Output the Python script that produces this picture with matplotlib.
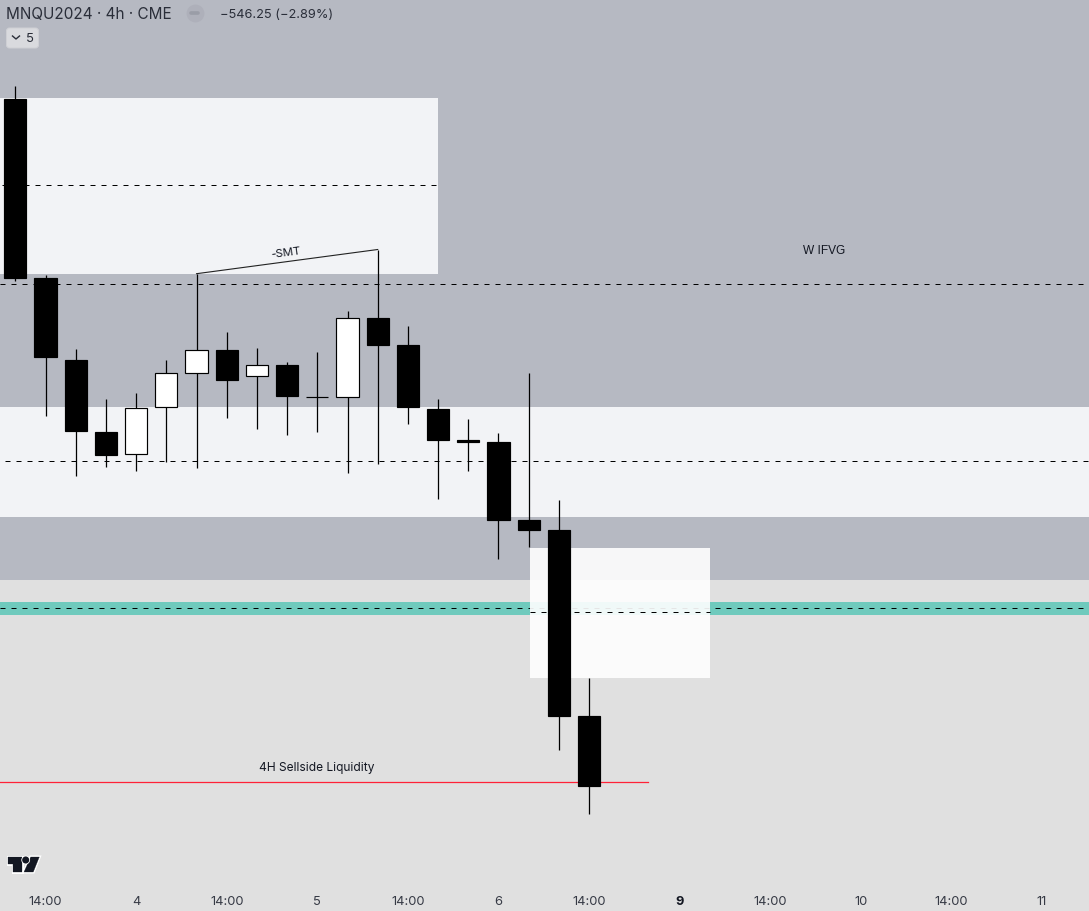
import matplotlib
matplotlib.use("Agg")
import matplotlib.pyplot as plt
import matplotlib.patheffects as pe
from matplotlib.patches import FancyBboxPatch, Polygon

plt.rcParams['font.family'] = ['Inter', 'DejaVu Sans']

# price levels (no price scale is shown, so the
# y axis is just an inverted chart level: smaller = higher price)
opens = [98.5, 277.5, 359.5, 431.5, 454, 407, 373, 349.5, 376, 364.5, 396.5, 396.5,
         317.5, 344.5, 408.5, 439.5, 441.5, 519.5, 529.5, 715.5]
highs = [86, 275, 349, 399, 393, 360, 274, 332, 348, 362, 352, 311,
         250, 326, 399, 419, 433, 373, 500, 678]
lows = [281, 416, 476, 467, 471, 462, 468, 418, 429, 435, 432, 473,
        464, 424, 499, 471, 559, 547, 750, 814]
closes = [277.5, 356.5, 430.5, 454.5, 407.5, 372.5, 349.5, 379.5, 364.5, 395.5, 396.5, 317.5,
          344.5, 406.5, 439.5, 441.5, 519.5, 529.5, 715.5, 785.5]

tick_pos = [1, 4, 7, 10, 13, 16, 19, 22, 25, 28, 31, 34]
tick_labels = ["14:00", "4", "14:00", "5", "14:00", "6", "14:00", "9", "14:00", "10", "14:00", "11"]

gray = "#b6b9c2"
pale = "#f2f3f6"
lower = "#e0e0e0"
teal = "#6fcabd"
ink = "#131722"

x_left, x_right = -0.508, 35.555

fig = plt.figure(figsize=(10.89, 9.11), dpi=100)
ax = fig.add_axes([0, 0, 1, 1])
ax.set_xlim(x_left, x_right)
ax.set_ylim(911, 0)
ax.set_facecolor(gray)
for s in ax.spines.values():
    s.set_visible(False)
ax.yaxis.set_visible(False)

# zones
ax.axhspan(580, 911, color=lower, lw=0, zorder=1)
ax.axhspan(407, 517, color=pale, lw=0, zorder=1)
ax.fill_between([x_left, 14], 98, 274, color=pale, lw=0, zorder=1)
ax.axhspan(602, 615, color=teal, lw=0, zorder=2)

dash = (0, (5, 6))
ax.plot([x_left, x_right], [607.6, 607.6], color="black", lw=0.72, ls=dash, zorder=3)
ax.fill_between([17.05, 23], 548, 678, color="white", alpha=0.9, lw=0, zorder=4)
ax.plot([-0.45, 14], [184.6, 184.6], color="black", lw=0.72, ls=dash, zorder=5)
ax.plot([x_left, x_right], [283.6, 283.6], color="black", lw=0.72, ls=dash, zorder=5)
ax.plot([-0.35, x_right], [460.6, 460.6], color="black", lw=0.72, ls=dash, zorder=5)
ax.plot([17.05, 23], [611.6, 611.6], color="black", lw=0.72, ls=dash, zorder=5)

ax.plot([x_left, 20.95], [781.6, 781.6], color="#ff2238", lw=0.9, zorder=5)
ax.plot([6, 12], [273.7, 249.5], color="#222222", lw=0.8, zorder=5)

# candles
xs = list(range(len(opens)))
ax.vlines(xs, highs, lows, color="black", lw=0.9, zorder=6)
for x, o, c in zip(xs, opens, closes):
    fc = "white" if c < o else "black"
    ax.bar(x, abs(c - o), bottom=min(o, c), width=0.735, facecolor=fc,
           edgecolor="black", lw=0.85, zorder=7)

# labels
ax.text(8.96, 253.5, "-SMT", fontsize=8.2, color=ink, rotation=7.6,
        ha="center", va="center", zorder=8)
ax.text(9.98, 768.5, "4H Sellside Liquidity", fontsize=8.6, color=ink,
        ha="center", va="center", zorder=8)
ax.text(26.79, 251, "W IFVG", fontsize=8.6, color=ink, family="Liberation Sans",
        ha="center", va="center", zorder=8)

ax.text(-0.31, 14.5, "MNQU2024 · 4h · CME", fontsize=11, color="#2a2e39",
        ha="left", va="center", zorder=9)
ax.text(6.77, 14.5, "−546.25 (−2.89%)", fontsize=9.25, color="#2a2e39",
        ha="left", va="center", zorder=9)


# header pill and collapsed indicator button, placed in screen pixels
def P(x, y):
    return ((x - 15.35) / 30.2, y)


ax.scatter(*P(195, 13), s=165, color="#aeb0ba", lw=0, zorder=9)
ax.plot([P(191.5, 0)[0], P(198.5, 0)[0]], [13, 13], color="#9a9da7", lw=2.6,
        solid_capstyle="round", zorder=10)
x0, x1 = P(6.5, 0)[0], P(38.5, 0)[0]
ax.add_patch(FancyBboxPatch((x0, 28), x1 - x0, 20, boxstyle="round,pad=0,rounding_size=0.1",
                            mutation_aspect=30, facecolor="#d9dade", edgecolor="#cfd0d5",
                            lw=0.7, zorder=9))
ax.plot([P(12.5, 0)[0], P(16, 0)[0], P(19.5, 0)[0]], [36, 39, 36], color="#2a2e39", lw=1, zorder=10)
ax.text(P(30, 0)[0], 39, "5", fontsize=9.4, color="#2a2e39", ha="center", va="center", zorder=10)

# tradingview logo
halo = [pe.withStroke(linewidth=2.2, foreground="white")]
for pts in ([(8, 857), (22, 857), (22, 872), (13.5, 872), (13.5, 864), (8, 864)],
            [(30.7, 857), (39.3, 857), (33.3, 872), (24, 872)]):
    ax.add_patch(Polygon([P(*p) for p in pts], closed=True, facecolor=ink, edgecolor=ink, lw=0.2,
                         path_effects=halo, zorder=9))
ax.scatter(*P(25.7, 860), s=26, color=ink, lw=0, zorder=10,
           path_effects=[pe.withStroke(linewidth=1.2, foreground="white")])

# time axis sits inside the pane
ax.set_xticks(tick_pos)
ax.set_xticklabels(tick_labels, fontsize=9.3, color="#363a45")
ax.tick_params(axis="x", length=0, pad=-11)
for lab in ax.get_xticklabels():
    lab.set_va("top")
    if lab.get_text() == "9":
        lab.set_fontweight("bold")
        lab.set_color(ink)

fig.savefig("out.png", dpi=100)
